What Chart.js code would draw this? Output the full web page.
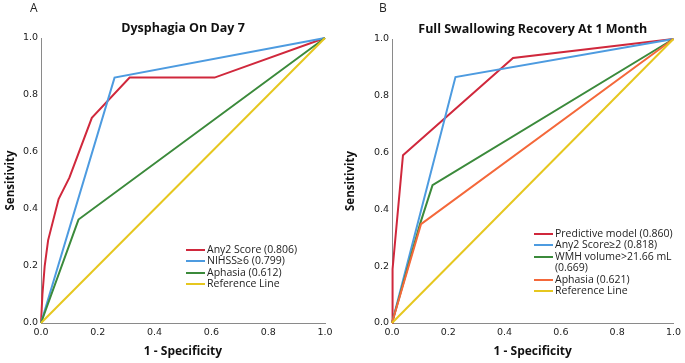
<!DOCTYPE html>
<html>
<head>
<meta charset="utf-8">
<script src="https://cdn.jsdelivr.net/npm/chart.js@4.4.1/dist/chart.umd.min.js"></script>
<style>
  body { margin: 0; background: #fff; font-family: "Open Sans", sans-serif; }
  #wrap { position: relative; width: 685px; height: 363px; overflow: hidden; }
  canvas { position: absolute; top: 0; }
  .letter { position: absolute; top: -1px; font-size: 12px; color: #222; }
  .legend { position: absolute; font-size: 10.5px; color: #222; line-height: 11.4px; white-space: pre; }
  .legend .row { display: flex; align-items: flex-start; }
  .legend .sw { width: 19px; height: 2px; margin-top: 5px; margin-right: 2px; flex: none; }
</style>
</head>
<body>
<div id="wrap">
  <canvas id="chartA" width="340" height="363" style="left:0"></canvas>
  <canvas id="chartB" width="345" height="363" style="left:340px"></canvas>
  <div class="letter" style="left:30px">A</div>
  <div class="letter" style="left:379px">B</div>
  <div class="legend" id="legA" style="left:186px;top:244px"></div>
  <div class="legend" id="legB" style="left:534px;top:228px"></div>
</div>
<script>
// ROC points [1 - specificity, sensitivity]
const any2A     = [[0,0],[0.005,0.1],[0.013,0.2],[0.025,0.29],[0.062,0.435],[0.1,0.51],[0.179,0.72],[0.312,0.861],[0.611,0.861],[1,1]];
const nihssA    = [[0,0],[0.259,0.861],[1,1]];
const aphasiaA  = [[0,0],[0.132,0.363],[1,1]];
const refLine   = [[0,0],[1,1]];

const modelB    = [[0,0],[0.002,0.19],[0.039,0.591],[0.43,0.933],[1,1]];
const any2B     = [[0,0],[0.2255,0.866],[1,1]];
const wmhB      = [[0,0],[0.1,0.35],[0.144,0.485],[1,1]];
const aphasiaB  = [[0,0],[0.103,0.348],[1,1]];

const labelsA = ['Any2 Score (0.806)', 'NIHSS\u22656 (0.799)', 'Aphasia (0.612)', 'Reference Line'];
const labelsB = ['Predictive model (0.860)', 'Any2 Score\u22652 (0.818)', 'WMH volume>21.66 mL\n(0.669)', 'Aphasia (0.621)', 'Reference Line'];
const axisTicks = [0, 0.2, 0.4, 0.6, 0.8, 1.0];

const RED = '#d0283c', BLUE = '#4d9be0', GREEN = '#3b8a3b', YELLOW = '#e6c71f', ORANGE = '#f4683a';

function toPts(arr) { return arr.map(p => ({ x: p[0], y: p[1] })); }

function makeChart(id, title, series, labels, colors, dims) {
  return new Chart(document.getElementById(id), {
    type: 'scatter',
    data: {
      datasets: series.map((s, i) => ({
        label: labels[i],
        data: toPts(s),
        showLine: true,
        borderColor: colors[i],
        borderWidth: 2,
        pointRadius: 0,
        pointHoverRadius: 0,
        fill: false,
        clip: false,
        order: series.length - i
      }))
    },
    options: {
      responsive: false,
      animation: false,
      layout: { padding: { left: 0, right: dims.right, top: 0, bottom: 0 } },
      plugins: {
        legend: { display: false },
        tooltip: { enabled: false },
        title: {
          display: true,
          text: title,
          fullSize: false,
          color: '#111',
          font: { family: 'Open Sans', size: 12.5, weight: 'bold' },
          padding: { top: dims.titleTop, bottom: dims.top - dims.titleTop - 15 }
        }
      },
      scales: {
        x: {
          type: 'linear', min: 0, max: 1,
          afterBuildTicks: sc => { sc.ticks = axisTicks.map(v => ({ value: v })); },
          afterFit: sc => { sc.height = 40; },
          grid: { display: false, drawTicks: false, tickLength: 0 },
          border: { display: true, color: '#8a8a8a', width: 1 },
          ticks: { color: '#222', font: { family: 'DejaVu Sans', size: 9.5 }, padding: 4,
                   callback: v => v.toFixed(1), maxRotation: 0 },
          title: { display: true, text: '1 - Specificity', color: '#111',
                   font: { family: 'Open Sans', size: 12, weight: 'bold' }, padding: { top: 6 } }
        },
        y: {
          type: 'linear', min: 0, max: 1,
          afterBuildTicks: sc => { sc.ticks = axisTicks.map(v => ({ value: v })); },
          afterFit: sc => { sc.width = dims.left; },
          grid: { display: false, drawTicks: false, tickLength: 0 },
          border: { display: true, color: '#8a8a8a', width: 1 },
          ticks: { color: '#222', font: { family: 'DejaVu Sans', size: 9.5 }, padding: 3,
                   callback: v => v.toFixed(1) },
          title: { display: true, text: 'Sensitivity', color: '#111',
                   font: { family: 'Open Sans', size: 11.5, weight: 'bold' }, padding: { bottom: 5 } }
        }
      }
    }
  });
}

makeChart('chartA', 'Dysphagia On Day 7',
  [any2A, nihssA, aphasiaA, refLine], labelsA, [RED, BLUE, GREEN, YELLOW],
  { left: 41, right: 15, top: 38, titleTop: 21 });

makeChart('chartB', 'Full Swallowing Recovery At 1 Month',
  [modelB, any2B, wmhB, aphasiaB, refLine], labelsB, [RED, BLUE, GREEN, ORANGE, YELLOW],
  { left: 52, right: 7, top: 39, titleTop: 22 });

function buildLegend(el, labels, colors) {
  el.innerHTML = labels.map((t, i) =>
    `<div class="row"><span class="sw" style="background:${colors[i]}"></span><span>${t}</span></div>`
  ).join('');
}
buildLegend(document.getElementById('legA'), labelsA, [RED, BLUE, GREEN, YELLOW]);
buildLegend(document.getElementById('legB'), labelsB, [RED, BLUE, GREEN, ORANGE, YELLOW]);
</script>
</body>
</html>
